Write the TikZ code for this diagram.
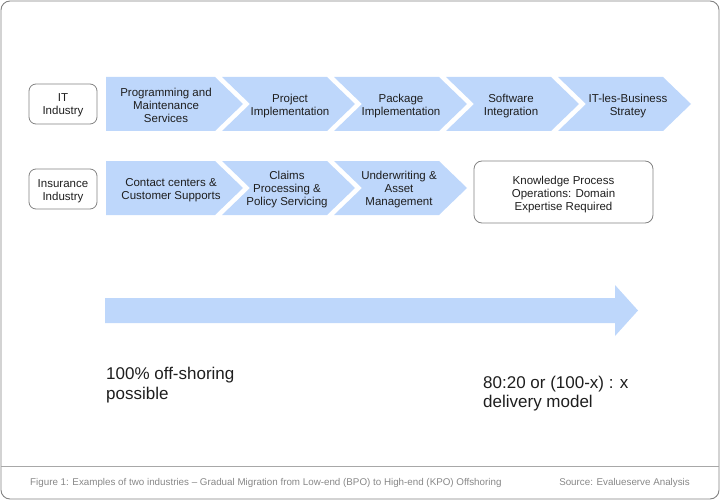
\documentclass[tikz,border=0pt]{standalone}
\usepackage{fontspec}
\setmainfont{Liberation Sans}
\definecolor{chevblue}{RGB}{190,215,251}
\definecolor{framegray}{RGB}{130,130,130}
\definecolor{foottext}{RGB}{135,135,135}
\definecolor{ink}{RGB}{30,30,30}
\begin{document}
\begin{tikzpicture}[x=1pt,y=-1pt,
  chev/.style={fill=chevblue},
  lbl/.style={align=center,text=ink,font=\fontsize{11.5}{13}\selectfont,inner sep=0pt},
  indbox/.style={draw=framegray,rounded corners=7pt,line width=0.8pt,minimum width=68pt,minimum height=40pt,inner sep=0pt},
  bigtext/.style={align=left,text=ink,font=\fontsize{17}{19.5}\selectfont,inner sep=0pt},
  foot/.style={text=foottext,font=\fontsize{9.8}{11}\selectfont,inner sep=0pt}]
\useasboundingbox (0,0) rectangle (720,500);
% frame
\draw[framegray,line width=0.9pt,rounded corners=9pt] (1,1) rectangle (719,499);
\draw[framegray!70,line width=0.8pt] (1,466) -- (719,466);
% IT row chevrons
\fill[chev] (106,77) -- (215,77) -- (243,104) -- (215,131) -- (106,131) -- cycle;
\foreach \k in {1,...,4}{
  \fill[chev] ({110+112*\k},77) -- ({215+112*\k},77) -- ({243+112*\k},104) -- ({215+112*\k},131) -- ({110+112*\k},131) -- ({138+112*\k},104) -- cycle;
}
% Insurance row chevrons
\fill[chev] (106,161) -- (215,161) -- (243,188) -- (215,215) -- (106,215) -- cycle;
\foreach \k in {1,2}{
  \fill[chev] ({110+112*\k},161) -- ({215+112*\k},161) -- ({243+112*\k},188) -- ({215+112*\k},215) -- ({110+112*\k},215) -- ({138+112*\k},188) -- cycle;
}
% industry boxes
\node[indbox] (it) at (63,104) {};
\node[lbl] (itl) at (63,105.5) {IT\\Industry};
\node[indbox] (ins) at (63,189) {};
\node[lbl] (insl) at (63,191.5) {Insurance\\Industry};
% IT labels
\node[lbl] (it1) at (166,105) {Programming and\\Maintenance\\Services};
\node[lbl] (it2) at (290,106.5) {Project\\Implementation};
\node[lbl] (it3) at (401,106.5) {Package\\Implementation};
\node[lbl] (it4) at (511,106.5) {Software\\Integration};
\node[lbl] (it5) at (628,106.5) {IT-les-Business\\Stratey};
% Insurance labels
\node[lbl] (in1) at (171,190.5) {Contact centers \&\\Customer Supports};
\node[lbl] (in2) at (287,190) {Claims\\Processing \&\\Policy Servicing};
\node[lbl] (in3) at (399,190) {Underwriting \&\\Asset\\Management};
% knowledge box
\node[indbox,minimum width=179pt,minimum height=62pt,rounded corners=8pt] (kpo) at (563.5,192) {};
\node[lbl] (kpol) at (563.5,194.5) {Knowledge Process\\Operations: Domain\\Expertise Required};
% big arrow
\fill[chev] (105,298) -- (615,298) -- (615,285) -- (638,310.5) -- (615,336) -- (615,323) -- (105,323) -- cycle;
\node[bigtext,anchor=north west] (left) at (106,367) {100\% off-shoring\\possible};
\node[bigtext,anchor=north west] (right) at (483,375.5) {80:20 or (100-x) : x\\delivery model};
% footer
\node[foot,anchor=west] (cap) at (30,483) {Figure 1: Examples of two industries – Gradual Migration from Low-end (BPO) to High-end (KPO) Offshoring};
\node[foot,anchor=east] (src) at (690,483) {Source: Evalueserve Analysis};
\end{tikzpicture}
\end{document}
